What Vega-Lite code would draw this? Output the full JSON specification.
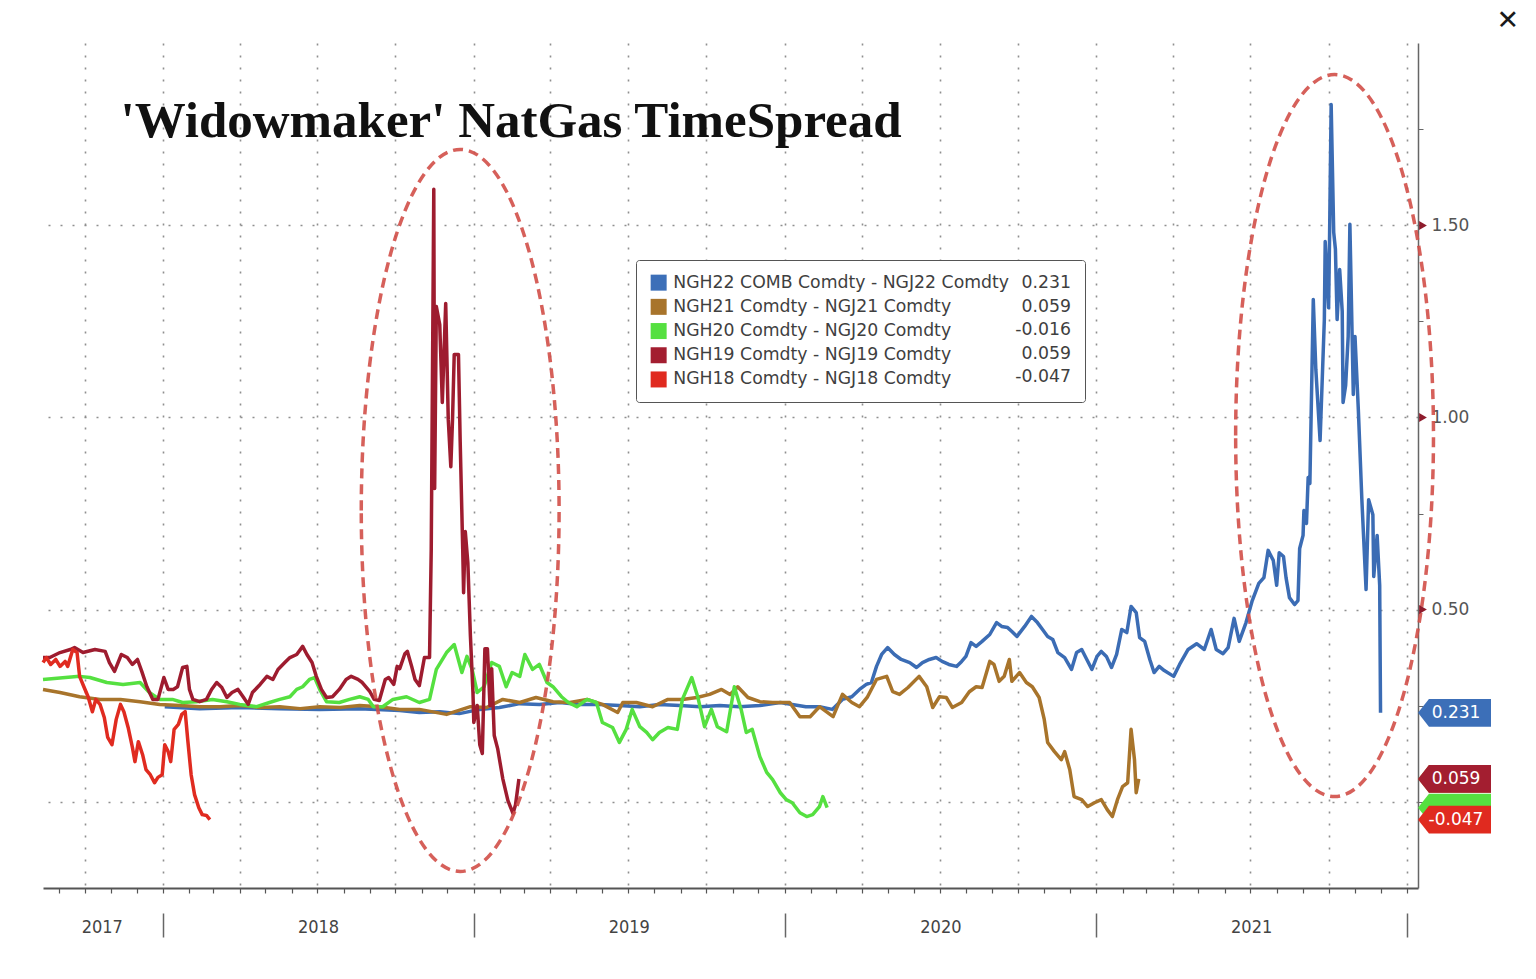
{
  "$schema": "https://vega.github.io/schema/vega-lite/v6.json",
  "autosize": "none",
  "width": 1375,
  "height": 845,
  "padding": {"left": 43, "top": 43, "right": 118, "bottom": 91},
  "background": "#ffffff",
  "config": {
    "view": {"stroke": null},
    "locale": {"number": {"decimal": ".", "thousands": ",", "grouping": [3], "currency": ["$", ""], "minus": "-"}}
  },
  "title": {"text": "✕", "anchor": "end", "frame": "group", "orient": "top", "dx": 101, "offset": 8, "fontSize": 27, "font": "DejaVu Sans", "fontWeight": "normal", "color": "#1a1a1a"},
  "resolve": {"axis": {"x": "independent"}},
  "datasets": {
    "spreads": [
      {"series": "NGH22", "date": "2018-01-03", "value": 0.247},
      {"series": "NGH22", "date": "2018-02-13", "value": 0.242},
      {"series": "NGH22", "date": "2018-04-01", "value": 0.245},
      {"series": "NGH22", "date": "2018-05-18", "value": 0.242},
      {"series": "NGH22", "date": "2018-07-04", "value": 0.240},
      {"series": "NGH22", "date": "2018-08-20", "value": 0.242},
      {"series": "NGH22", "date": "2018-10-06", "value": 0.237},
      {"series": "NGH22", "date": "2018-10-29", "value": 0.232},
      {"series": "NGH22", "date": "2018-11-22", "value": 0.234},
      {"series": "NGH22", "date": "2018-12-15", "value": 0.229},
      {"series": "NGH22", "date": "2019-01-08", "value": 0.240},
      {"series": "NGH22", "date": "2019-01-31", "value": 0.245},
      {"series": "NGH22", "date": "2019-02-24", "value": 0.255},
      {"series": "NGH22", "date": "2019-03-19", "value": 0.253},
      {"series": "NGH22", "date": "2019-04-12", "value": 0.258},
      {"series": "NGH22", "date": "2019-05-05", "value": 0.253},
      {"series": "NGH22", "date": "2019-05-29", "value": 0.253},
      {"series": "NGH22", "date": "2019-06-21", "value": 0.250},
      {"series": "NGH22", "date": "2019-07-15", "value": 0.247},
      {"series": "NGH22", "date": "2019-08-07", "value": 0.253},
      {"series": "NGH22", "date": "2019-08-31", "value": 0.250},
      {"series": "NGH22", "date": "2019-09-24", "value": 0.247},
      {"series": "NGH22", "date": "2019-10-17", "value": 0.250},
      {"series": "NGH22", "date": "2019-11-09", "value": 0.247},
      {"series": "NGH22", "date": "2019-12-03", "value": 0.250},
      {"series": "NGH22", "date": "2019-12-27", "value": 0.258},
      {"series": "NGH22", "date": "2020-01-10", "value": 0.253},
      {"series": "NGH22", "date": "2020-01-26", "value": 0.247},
      {"series": "NGH22", "date": "2020-02-11", "value": 0.247},
      {"series": "NGH22", "date": "2020-02-26", "value": 0.240},
      {"series": "NGH22", "date": "2020-03-09", "value": 0.266},
      {"series": "NGH22", "date": "2020-03-20", "value": 0.273},
      {"series": "NGH22", "date": "2020-03-29", "value": 0.292},
      {"series": "NGH22", "date": "2020-04-06", "value": 0.305},
      {"series": "NGH22", "date": "2020-04-12", "value": 0.310},
      {"series": "NGH22", "date": "2020-04-18", "value": 0.352},
      {"series": "NGH22", "date": "2020-04-24", "value": 0.383},
      {"series": "NGH22", "date": "2020-05-01", "value": 0.401},
      {"series": "NGH22", "date": "2020-05-09", "value": 0.383},
      {"series": "NGH22", "date": "2020-05-17", "value": 0.370},
      {"series": "NGH22", "date": "2020-05-27", "value": 0.362},
      {"series": "NGH22", "date": "2020-06-04", "value": 0.349},
      {"series": "NGH22", "date": "2020-06-11", "value": 0.362},
      {"series": "NGH22", "date": "2020-06-19", "value": 0.370},
      {"series": "NGH22", "date": "2020-06-27", "value": 0.375},
      {"series": "NGH22", "date": "2020-07-04", "value": 0.365},
      {"series": "NGH22", "date": "2020-07-12", "value": 0.357},
      {"series": "NGH22", "date": "2020-07-21", "value": 0.352},
      {"series": "NGH22", "date": "2020-07-27", "value": 0.365},
      {"series": "NGH22", "date": "2020-08-01", "value": 0.378},
      {"series": "NGH22", "date": "2020-08-07", "value": 0.414},
      {"series": "NGH22", "date": "2020-08-13", "value": 0.404},
      {"series": "NGH22", "date": "2020-08-20", "value": 0.417},
      {"series": "NGH22", "date": "2020-08-29", "value": 0.435},
      {"series": "NGH22", "date": "2020-09-06", "value": 0.466},
      {"series": "NGH22", "date": "2020-09-12", "value": 0.456},
      {"series": "NGH22", "date": "2020-09-19", "value": 0.453},
      {"series": "NGH22", "date": "2020-09-24", "value": 0.443},
      {"series": "NGH22", "date": "2020-09-30", "value": 0.430},
      {"series": "NGH22", "date": "2020-10-09", "value": 0.456},
      {"series": "NGH22", "date": "2020-10-17", "value": 0.482},
      {"series": "NGH22", "date": "2020-10-24", "value": 0.466},
      {"series": "NGH22", "date": "2020-10-30", "value": 0.448},
      {"series": "NGH22", "date": "2020-11-05", "value": 0.430},
      {"series": "NGH22", "date": "2020-11-11", "value": 0.422},
      {"series": "NGH22", "date": "2020-11-17", "value": 0.388},
      {"series": "NGH22", "date": "2020-11-25", "value": 0.375},
      {"series": "NGH22", "date": "2020-12-03", "value": 0.344},
      {"series": "NGH22", "date": "2020-12-09", "value": 0.388},
      {"series": "NGH22", "date": "2020-12-15", "value": 0.396},
      {"series": "NGH22", "date": "2020-12-21", "value": 0.370},
      {"series": "NGH22", "date": "2020-12-27", "value": 0.344},
      {"series": "NGH22", "date": "2021-01-02", "value": 0.378},
      {"series": "NGH22", "date": "2021-01-07", "value": 0.391},
      {"series": "NGH22", "date": "2021-01-13", "value": 0.378},
      {"series": "NGH22", "date": "2021-01-19", "value": 0.349},
      {"series": "NGH22", "date": "2021-01-25", "value": 0.383},
      {"series": "NGH22", "date": "2021-01-31", "value": 0.448},
      {"series": "NGH22", "date": "2021-02-06", "value": 0.440},
      {"series": "NGH22", "date": "2021-02-11", "value": 0.508},
      {"series": "NGH22", "date": "2021-02-17", "value": 0.492},
      {"series": "NGH22", "date": "2021-02-21", "value": 0.427},
      {"series": "NGH22", "date": "2021-02-27", "value": 0.417},
      {"series": "NGH22", "date": "2021-03-05", "value": 0.370},
      {"series": "NGH22", "date": "2021-03-10", "value": 0.336},
      {"series": "NGH22", "date": "2021-03-16", "value": 0.352},
      {"series": "NGH22", "date": "2021-03-22", "value": 0.341},
      {"series": "NGH22", "date": "2021-04-02", "value": 0.326},
      {"series": "NGH22", "date": "2021-04-09", "value": 0.357},
      {"series": "NGH22", "date": "2021-04-19", "value": 0.396},
      {"series": "NGH22", "date": "2021-04-29", "value": 0.411},
      {"series": "NGH22", "date": "2021-05-08", "value": 0.396},
      {"series": "NGH22", "date": "2021-05-16", "value": 0.448},
      {"series": "NGH22", "date": "2021-05-22", "value": 0.396},
      {"series": "NGH22", "date": "2021-05-30", "value": 0.385},
      {"series": "NGH22", "date": "2021-06-05", "value": 0.401},
      {"series": "NGH22", "date": "2021-06-12", "value": 0.477},
      {"series": "NGH22", "date": "2021-06-18", "value": 0.417},
      {"series": "NGH22", "date": "2021-06-26", "value": 0.466},
      {"series": "NGH22", "date": "2021-07-03", "value": 0.521},
      {"series": "NGH22", "date": "2021-07-11", "value": 0.568},
      {"series": "NGH22", "date": "2021-07-17", "value": 0.583},
      {"series": "NGH22", "date": "2021-07-22", "value": 0.654},
      {"series": "NGH22", "date": "2021-07-28", "value": 0.628},
      {"series": "NGH22", "date": "2021-08-01", "value": 0.563},
      {"series": "NGH22", "date": "2021-08-04", "value": 0.648},
      {"series": "NGH22", "date": "2021-08-09", "value": 0.638},
      {"series": "NGH22", "date": "2021-08-12", "value": 0.583},
      {"series": "NGH22", "date": "2021-08-16", "value": 0.531},
      {"series": "NGH22", "date": "2021-08-22", "value": 0.513},
      {"series": "NGH22", "date": "2021-08-26", "value": 0.523},
      {"series": "NGH22", "date": "2021-08-28", "value": 0.659},
      {"series": "NGH22", "date": "2021-09-01", "value": 0.693},
      {"series": "NGH22", "date": "2021-09-02", "value": 0.758},
      {"series": "NGH22", "date": "2021-09-05", "value": 0.724},
      {"series": "NGH22", "date": "2021-09-07", "value": 0.844},
      {"series": "NGH22", "date": "2021-09-09", "value": 0.828},
      {"series": "NGH22", "date": "2021-09-13", "value": 1.307},
      {"series": "NGH22", "date": "2021-09-16", "value": 1.125},
      {"series": "NGH22", "date": "2021-09-21", "value": 0.940},
      {"series": "NGH22", "date": "2021-09-26", "value": 1.255},
      {"series": "NGH22", "date": "2021-09-27", "value": 1.458},
      {"series": "NGH22", "date": "2021-10-01", "value": 1.286},
      {"series": "NGH22", "date": "2021-10-02", "value": 1.448},
      {"series": "NGH22", "date": "2021-10-04", "value": 1.815},
      {"series": "NGH22", "date": "2021-10-07", "value": 1.482},
      {"series": "NGH22", "date": "2021-10-09", "value": 1.438},
      {"series": "NGH22", "date": "2021-10-11", "value": 1.255},
      {"series": "NGH22", "date": "2021-10-14", "value": 1.385},
      {"series": "NGH22", "date": "2021-10-17", "value": 1.276},
      {"series": "NGH22", "date": "2021-10-18", "value": 1.039},
      {"series": "NGH22", "date": "2021-10-21", "value": 1.083},
      {"series": "NGH22", "date": "2021-10-24", "value": 1.211},
      {"series": "NGH22", "date": "2021-10-26", "value": 1.503},
      {"series": "NGH22", "date": "2021-10-30", "value": 1.060},
      {"series": "NGH22", "date": "2021-11-01", "value": 1.211},
      {"series": "NGH22", "date": "2021-11-05", "value": 1.016},
      {"series": "NGH22", "date": "2021-11-09", "value": 0.789},
      {"series": "NGH22", "date": "2021-11-14", "value": 0.552},
      {"series": "NGH22", "date": "2021-11-17", "value": 0.786},
      {"series": "NGH22", "date": "2021-11-22", "value": 0.747},
      {"series": "NGH22", "date": "2021-11-23", "value": 0.586},
      {"series": "NGH22", "date": "2021-11-27", "value": 0.693},
      {"series": "NGH22", "date": "2021-11-30", "value": 0.563},
      {"series": "NGH22", "date": "2021-12-01", "value": 0.231},

      {"series": "NGH21", "date": "2017-08-13", "value": 0.292},
      {"series": "NGH21", "date": "2017-09-02", "value": 0.284},
      {"series": "NGH21", "date": "2017-09-25", "value": 0.273},
      {"series": "NGH21", "date": "2017-10-19", "value": 0.266},
      {"series": "NGH21", "date": "2017-11-12", "value": 0.266},
      {"series": "NGH21", "date": "2017-12-05", "value": 0.260},
      {"series": "NGH21", "date": "2017-12-28", "value": 0.253},
      {"series": "NGH21", "date": "2018-01-21", "value": 0.250},
      {"series": "NGH21", "date": "2018-02-13", "value": 0.247},
      {"series": "NGH21", "date": "2018-03-09", "value": 0.247},
      {"series": "NGH21", "date": "2018-04-01", "value": 0.250},
      {"series": "NGH21", "date": "2018-04-25", "value": 0.245},
      {"series": "NGH21", "date": "2018-05-18", "value": 0.247},
      {"series": "NGH21", "date": "2018-06-11", "value": 0.242},
      {"series": "NGH21", "date": "2018-07-04", "value": 0.247},
      {"series": "NGH21", "date": "2018-07-28", "value": 0.245},
      {"series": "NGH21", "date": "2018-08-20", "value": 0.250},
      {"series": "NGH21", "date": "2018-09-12", "value": 0.247},
      {"series": "NGH21", "date": "2018-10-06", "value": 0.240},
      {"series": "NGH21", "date": "2018-10-29", "value": 0.240},
      {"series": "NGH21", "date": "2018-11-30", "value": 0.227},
      {"series": "NGH21", "date": "2018-12-28", "value": 0.247},
      {"series": "NGH21", "date": "2019-01-16", "value": 0.245},
      {"series": "NGH21", "date": "2019-02-04", "value": 0.266},
      {"series": "NGH21", "date": "2019-02-24", "value": 0.258},
      {"series": "NGH21", "date": "2019-03-15", "value": 0.271},
      {"series": "NGH21", "date": "2019-04-04", "value": 0.260},
      {"series": "NGH21", "date": "2019-04-24", "value": 0.258},
      {"series": "NGH21", "date": "2019-05-14", "value": 0.266},
      {"series": "NGH21", "date": "2019-06-01", "value": 0.253},
      {"series": "NGH21", "date": "2019-06-19", "value": 0.232},
      {"series": "NGH21", "date": "2019-06-25", "value": 0.258},
      {"series": "NGH21", "date": "2019-07-11", "value": 0.258},
      {"series": "NGH21", "date": "2019-07-30", "value": 0.247},
      {"series": "NGH21", "date": "2019-08-17", "value": 0.266},
      {"series": "NGH21", "date": "2019-09-03", "value": 0.266},
      {"series": "NGH21", "date": "2019-09-20", "value": 0.271},
      {"series": "NGH21", "date": "2019-10-05", "value": 0.279},
      {"series": "NGH21", "date": "2019-10-19", "value": 0.292},
      {"series": "NGH21", "date": "2019-10-29", "value": 0.279},
      {"series": "NGH21", "date": "2019-11-07", "value": 0.299},
      {"series": "NGH21", "date": "2019-11-19", "value": 0.271},
      {"series": "NGH21", "date": "2019-12-03", "value": 0.260},
      {"series": "NGH21", "date": "2019-12-18", "value": 0.258},
      {"series": "NGH21", "date": "2020-01-07", "value": 0.258},
      {"series": "NGH21", "date": "2020-01-19", "value": 0.221},
      {"series": "NGH21", "date": "2020-01-31", "value": 0.221},
      {"series": "NGH21", "date": "2020-02-11", "value": 0.247},
      {"series": "NGH21", "date": "2020-02-27", "value": 0.221},
      {"series": "NGH21", "date": "2020-03-09", "value": 0.279},
      {"series": "NGH21", "date": "2020-03-20", "value": 0.258},
      {"series": "NGH21", "date": "2020-03-29", "value": 0.247},
      {"series": "NGH21", "date": "2020-04-07", "value": 0.271},
      {"series": "NGH21", "date": "2020-04-18", "value": 0.318},
      {"series": "NGH21", "date": "2020-04-30", "value": 0.326},
      {"series": "NGH21", "date": "2020-05-07", "value": 0.286},
      {"series": "NGH21", "date": "2020-05-15", "value": 0.279},
      {"series": "NGH21", "date": "2020-05-25", "value": 0.297},
      {"series": "NGH21", "date": "2020-06-07", "value": 0.326},
      {"series": "NGH21", "date": "2020-06-16", "value": 0.299},
      {"series": "NGH21", "date": "2020-06-23", "value": 0.245},
      {"series": "NGH21", "date": "2020-07-01", "value": 0.273},
      {"series": "NGH21", "date": "2020-07-09", "value": 0.271},
      {"series": "NGH21", "date": "2020-07-16", "value": 0.245},
      {"series": "NGH21", "date": "2020-07-27", "value": 0.258},
      {"series": "NGH21", "date": "2020-08-05", "value": 0.286},
      {"series": "NGH21", "date": "2020-08-13", "value": 0.299},
      {"series": "NGH21", "date": "2020-08-20", "value": 0.297},
      {"series": "NGH21", "date": "2020-08-29", "value": 0.365},
      {"series": "NGH21", "date": "2020-09-03", "value": 0.357},
      {"series": "NGH21", "date": "2020-09-09", "value": 0.313},
      {"series": "NGH21", "date": "2020-09-15", "value": 0.326},
      {"series": "NGH21", "date": "2020-09-21", "value": 0.370},
      {"series": "NGH21", "date": "2020-09-24", "value": 0.313},
      {"series": "NGH21", "date": "2020-10-03", "value": 0.336},
      {"series": "NGH21", "date": "2020-10-11", "value": 0.310},
      {"series": "NGH21", "date": "2020-10-18", "value": 0.299},
      {"series": "NGH21", "date": "2020-10-26", "value": 0.271},
      {"series": "NGH21", "date": "2020-11-01", "value": 0.214},
      {"series": "NGH21", "date": "2020-11-05", "value": 0.154},
      {"series": "NGH21", "date": "2020-11-13", "value": 0.130},
      {"series": "NGH21", "date": "2020-11-21", "value": 0.109},
      {"series": "NGH21", "date": "2020-11-25", "value": 0.130},
      {"series": "NGH21", "date": "2020-12-01", "value": 0.083},
      {"series": "NGH21", "date": "2020-12-06", "value": 0.013},
      {"series": "NGH21", "date": "2020-12-15", "value": 0.005},
      {"series": "NGH21", "date": "2020-12-22", "value": -0.013},
      {"series": "NGH21", "date": "2020-12-30", "value": -0.003},
      {"series": "NGH21", "date": "2021-01-07", "value": 0.005},
      {"series": "NGH21", "date": "2021-01-14", "value": -0.021},
      {"series": "NGH21", "date": "2021-01-20", "value": -0.039},
      {"series": "NGH21", "date": "2021-01-26", "value": 0.005},
      {"series": "NGH21", "date": "2021-02-01", "value": 0.039},
      {"series": "NGH21", "date": "2021-02-07", "value": 0.049},
      {"series": "NGH21", "date": "2021-02-11", "value": 0.188},
      {"series": "NGH21", "date": "2021-02-15", "value": 0.109},
      {"series": "NGH21", "date": "2021-02-17", "value": 0.023},
      {"series": "NGH21", "date": "2021-02-20", "value": 0.059},

      {"series": "NGH20", "date": "2017-08-13", "value": 0.318},
      {"series": "NGH20", "date": "2017-09-25", "value": 0.326},
      {"series": "NGH20", "date": "2017-10-07", "value": 0.323},
      {"series": "NGH20", "date": "2017-10-27", "value": 0.310},
      {"series": "NGH20", "date": "2017-11-15", "value": 0.305},
      {"series": "NGH20", "date": "2017-12-05", "value": 0.310},
      {"series": "NGH20", "date": "2017-12-16", "value": 0.284},
      {"series": "NGH20", "date": "2017-12-28", "value": 0.266},
      {"series": "NGH20", "date": "2018-01-12", "value": 0.266},
      {"series": "NGH20", "date": "2018-01-24", "value": 0.258},
      {"series": "NGH20", "date": "2018-02-09", "value": 0.260},
      {"series": "NGH20", "date": "2018-02-28", "value": 0.266},
      {"series": "NGH20", "date": "2018-03-17", "value": 0.260},
      {"series": "NGH20", "date": "2018-04-01", "value": 0.253},
      {"series": "NGH20", "date": "2018-04-21", "value": 0.247},
      {"series": "NGH20", "date": "2018-05-06", "value": 0.258},
      {"series": "NGH20", "date": "2018-05-18", "value": 0.266},
      {"series": "NGH20", "date": "2018-05-30", "value": 0.273},
      {"series": "NGH20", "date": "2018-06-07", "value": 0.292},
      {"series": "NGH20", "date": "2018-06-14", "value": 0.299},
      {"series": "NGH20", "date": "2018-06-22", "value": 0.318},
      {"series": "NGH20", "date": "2018-06-28", "value": 0.323},
      {"series": "NGH20", "date": "2018-07-04", "value": 0.292},
      {"series": "NGH20", "date": "2018-07-12", "value": 0.260},
      {"series": "NGH20", "date": "2018-07-27", "value": 0.258},
      {"series": "NGH20", "date": "2018-08-08", "value": 0.266},
      {"series": "NGH20", "date": "2018-08-20", "value": 0.273},
      {"series": "NGH20", "date": "2018-08-30", "value": 0.266},
      {"series": "NGH20", "date": "2018-09-05", "value": 0.247},
      {"series": "NGH20", "date": "2018-09-16", "value": 0.247},
      {"series": "NGH20", "date": "2018-09-28", "value": 0.266},
      {"series": "NGH20", "date": "2018-10-14", "value": 0.273},
      {"series": "NGH20", "date": "2018-10-29", "value": 0.258},
      {"series": "NGH20", "date": "2018-11-10", "value": 0.266},
      {"series": "NGH20", "date": "2018-11-18", "value": 0.344},
      {"series": "NGH20", "date": "2018-11-30", "value": 0.388},
      {"series": "NGH20", "date": "2018-12-09", "value": 0.409},
      {"series": "NGH20", "date": "2018-12-18", "value": 0.336},
      {"series": "NGH20", "date": "2018-12-24", "value": 0.378},
      {"series": "NGH20", "date": "2018-12-30", "value": 0.344},
      {"series": "NGH20", "date": "2019-01-05", "value": 0.284},
      {"series": "NGH20", "date": "2019-01-13", "value": 0.299},
      {"series": "NGH20", "date": "2019-01-22", "value": 0.362},
      {"series": "NGH20", "date": "2019-01-31", "value": 0.352},
      {"series": "NGH20", "date": "2019-02-08", "value": 0.299},
      {"series": "NGH20", "date": "2019-02-15", "value": 0.336},
      {"series": "NGH20", "date": "2019-02-24", "value": 0.326},
      {"series": "NGH20", "date": "2019-03-02", "value": 0.383},
      {"series": "NGH20", "date": "2019-03-11", "value": 0.344},
      {"series": "NGH20", "date": "2019-03-19", "value": 0.357},
      {"series": "NGH20", "date": "2019-03-28", "value": 0.310},
      {"series": "NGH20", "date": "2019-04-04", "value": 0.299},
      {"series": "NGH20", "date": "2019-04-14", "value": 0.273},
      {"series": "NGH20", "date": "2019-04-22", "value": 0.258},
      {"series": "NGH20", "date": "2019-05-02", "value": 0.247},
      {"series": "NGH20", "date": "2019-05-14", "value": 0.266},
      {"series": "NGH20", "date": "2019-05-25", "value": 0.258},
      {"series": "NGH20", "date": "2019-06-01", "value": 0.206},
      {"series": "NGH20", "date": "2019-06-13", "value": 0.193},
      {"series": "NGH20", "date": "2019-06-21", "value": 0.154},
      {"series": "NGH20", "date": "2019-06-29", "value": 0.188},
      {"series": "NGH20", "date": "2019-07-06", "value": 0.240},
      {"series": "NGH20", "date": "2019-07-15", "value": 0.195},
      {"series": "NGH20", "date": "2019-07-23", "value": 0.180},
      {"series": "NGH20", "date": "2019-07-30", "value": 0.161},
      {"series": "NGH20", "date": "2019-08-07", "value": 0.180},
      {"series": "NGH20", "date": "2019-08-17", "value": 0.193},
      {"series": "NGH20", "date": "2019-08-28", "value": 0.188},
      {"series": "NGH20", "date": "2019-09-03", "value": 0.266},
      {"series": "NGH20", "date": "2019-09-14", "value": 0.323},
      {"series": "NGH20", "date": "2019-09-21", "value": 0.273},
      {"series": "NGH20", "date": "2019-09-29", "value": 0.195},
      {"series": "NGH20", "date": "2019-10-07", "value": 0.240},
      {"series": "NGH20", "date": "2019-10-14", "value": 0.195},
      {"series": "NGH20", "date": "2019-10-25", "value": 0.182},
      {"series": "NGH20", "date": "2019-11-03", "value": 0.299},
      {"series": "NGH20", "date": "2019-11-11", "value": 0.240},
      {"series": "NGH20", "date": "2019-11-17", "value": 0.180},
      {"series": "NGH20", "date": "2019-11-24", "value": 0.188},
      {"series": "NGH20", "date": "2019-12-03", "value": 0.117},
      {"series": "NGH20", "date": "2019-12-11", "value": 0.076},
      {"series": "NGH20", "date": "2019-12-18", "value": 0.057},
      {"series": "NGH20", "date": "2019-12-27", "value": 0.023},
      {"series": "NGH20", "date": "2020-01-03", "value": 0.005},
      {"series": "NGH20", "date": "2020-01-10", "value": -0.003},
      {"series": "NGH20", "date": "2020-01-19", "value": -0.029},
      {"series": "NGH20", "date": "2020-01-27", "value": -0.039},
      {"series": "NGH20", "date": "2020-02-03", "value": -0.034},
      {"series": "NGH20", "date": "2020-02-11", "value": -0.013},
      {"series": "NGH20", "date": "2020-02-15", "value": 0.013},
      {"series": "NGH20", "date": "2020-02-20", "value": -0.016},

      {"series": "NGH19", "date": "2017-08-13", "value": 0.375},
      {"series": "NGH19", "date": "2017-08-21", "value": 0.375},
      {"series": "NGH19", "date": "2017-09-02", "value": 0.388},
      {"series": "NGH19", "date": "2017-09-14", "value": 0.396},
      {"series": "NGH19", "date": "2017-09-19", "value": 0.401},
      {"series": "NGH19", "date": "2017-09-29", "value": 0.388},
      {"series": "NGH19", "date": "2017-10-13", "value": 0.396},
      {"series": "NGH19", "date": "2017-10-25", "value": 0.391},
      {"series": "NGH19", "date": "2017-10-30", "value": 0.362},
      {"series": "NGH19", "date": "2017-11-05", "value": 0.339},
      {"series": "NGH19", "date": "2017-11-13", "value": 0.383},
      {"series": "NGH19", "date": "2017-11-20", "value": 0.375},
      {"series": "NGH19", "date": "2017-11-26", "value": 0.357},
      {"series": "NGH19", "date": "2017-12-02", "value": 0.370},
      {"series": "NGH19", "date": "2017-12-07", "value": 0.339},
      {"series": "NGH19", "date": "2017-12-13", "value": 0.299},
      {"series": "NGH19", "date": "2017-12-20", "value": 0.266},
      {"series": "NGH19", "date": "2017-12-26", "value": 0.266},
      {"series": "NGH19", "date": "2018-01-02", "value": 0.323},
      {"series": "NGH19", "date": "2018-01-07", "value": 0.292},
      {"series": "NGH19", "date": "2018-01-13", "value": 0.292},
      {"series": "NGH19", "date": "2018-01-18", "value": 0.299},
      {"series": "NGH19", "date": "2018-01-24", "value": 0.349},
      {"series": "NGH19", "date": "2018-01-29", "value": 0.352},
      {"series": "NGH19", "date": "2018-02-01", "value": 0.292},
      {"series": "NGH19", "date": "2018-02-05", "value": 0.266},
      {"series": "NGH19", "date": "2018-02-13", "value": 0.260},
      {"series": "NGH19", "date": "2018-02-21", "value": 0.266},
      {"series": "NGH19", "date": "2018-02-27", "value": 0.292},
      {"series": "NGH19", "date": "2018-03-05", "value": 0.310},
      {"series": "NGH19", "date": "2018-03-11", "value": 0.297},
      {"series": "NGH19", "date": "2018-03-17", "value": 0.271},
      {"series": "NGH19", "date": "2018-03-23", "value": 0.284},
      {"series": "NGH19", "date": "2018-03-30", "value": 0.292},
      {"series": "NGH19", "date": "2018-04-05", "value": 0.273},
      {"series": "NGH19", "date": "2018-04-11", "value": 0.253},
      {"series": "NGH19", "date": "2018-04-16", "value": 0.284},
      {"series": "NGH19", "date": "2018-04-25", "value": 0.305},
      {"series": "NGH19", "date": "2018-05-03", "value": 0.326},
      {"series": "NGH19", "date": "2018-05-10", "value": 0.318},
      {"series": "NGH19", "date": "2018-05-16", "value": 0.344},
      {"series": "NGH19", "date": "2018-05-24", "value": 0.362},
      {"series": "NGH19", "date": "2018-05-30", "value": 0.375},
      {"series": "NGH19", "date": "2018-06-07", "value": 0.383},
      {"series": "NGH19", "date": "2018-06-14", "value": 0.404},
      {"series": "NGH19", "date": "2018-06-19", "value": 0.383},
      {"series": "NGH19", "date": "2018-06-25", "value": 0.362},
      {"series": "NGH19", "date": "2018-06-30", "value": 0.326},
      {"series": "NGH19", "date": "2018-07-06", "value": 0.292},
      {"series": "NGH19", "date": "2018-07-12", "value": 0.271},
      {"series": "NGH19", "date": "2018-07-19", "value": 0.273},
      {"series": "NGH19", "date": "2018-07-27", "value": 0.292},
      {"series": "NGH19", "date": "2018-08-04", "value": 0.318},
      {"series": "NGH19", "date": "2018-08-10", "value": 0.326},
      {"series": "NGH19", "date": "2018-08-18", "value": 0.318},
      {"series": "NGH19", "date": "2018-08-23", "value": 0.310},
      {"series": "NGH19", "date": "2018-09-01", "value": 0.286},
      {"series": "NGH19", "date": "2018-09-06", "value": 0.266},
      {"series": "NGH19", "date": "2018-09-12", "value": 0.263},
      {"series": "NGH19", "date": "2018-09-19", "value": 0.318},
      {"series": "NGH19", "date": "2018-09-23", "value": 0.323},
      {"series": "NGH19", "date": "2018-09-29", "value": 0.305},
      {"series": "NGH19", "date": "2018-10-03", "value": 0.352},
      {"series": "NGH19", "date": "2018-10-06", "value": 0.346},
      {"series": "NGH19", "date": "2018-10-12", "value": 0.385},
      {"series": "NGH19", "date": "2018-10-15", "value": 0.391},
      {"series": "NGH19", "date": "2018-10-20", "value": 0.352},
      {"series": "NGH19", "date": "2018-10-24", "value": 0.318},
      {"series": "NGH19", "date": "2018-10-29", "value": 0.302},
      {"series": "NGH19", "date": "2018-11-04", "value": 0.375},
      {"series": "NGH19", "date": "2018-11-10", "value": 0.375},
      {"series": "NGH19", "date": "2018-11-12", "value": 0.656},
      {"series": "NGH19", "date": "2018-11-15", "value": 1.594},
      {"series": "NGH19", "date": "2018-11-16", "value": 0.815},
      {"series": "NGH19", "date": "2018-11-18", "value": 1.289},
      {"series": "NGH19", "date": "2018-11-22", "value": 1.242},
      {"series": "NGH19", "date": "2018-11-25", "value": 1.039},
      {"series": "NGH19", "date": "2018-11-29", "value": 1.297},
      {"series": "NGH19", "date": "2018-12-02", "value": 0.995},
      {"series": "NGH19", "date": "2018-12-05", "value": 0.872},
      {"series": "NGH19", "date": "2018-12-07", "value": 0.995},
      {"series": "NGH19", "date": "2018-12-09", "value": 1.164},
      {"series": "NGH19", "date": "2018-12-14", "value": 1.164},
      {"series": "NGH19", "date": "2018-12-15", "value": 1.052},
      {"series": "NGH19", "date": "2018-12-16", "value": 0.938},
      {"series": "NGH19", "date": "2018-12-19", "value": 0.656},
      {"series": "NGH19", "date": "2018-12-20", "value": 0.544},
      {"series": "NGH19", "date": "2018-12-22", "value": 0.703},
      {"series": "NGH19", "date": "2018-12-25", "value": 0.622},
      {"series": "NGH19", "date": "2018-12-28", "value": 0.432},
      {"series": "NGH19", "date": "2018-12-31", "value": 0.284},
      {"series": "NGH19", "date": "2019-01-01", "value": 0.206},
      {"series": "NGH19", "date": "2019-01-05", "value": 0.250},
      {"series": "NGH19", "date": "2019-01-08", "value": 0.148},
      {"series": "NGH19", "date": "2019-01-11", "value": 0.125},
      {"series": "NGH19", "date": "2019-01-14", "value": 0.398},
      {"series": "NGH19", "date": "2019-01-17", "value": 0.398},
      {"series": "NGH19", "date": "2019-01-20", "value": 0.250},
      {"series": "NGH19", "date": "2019-01-22", "value": 0.346},
      {"series": "NGH19", "date": "2019-01-25", "value": 0.172},
      {"series": "NGH19", "date": "2019-01-29", "value": 0.138},
      {"series": "NGH19", "date": "2019-02-04", "value": 0.060},
      {"series": "NGH19", "date": "2019-02-10", "value": 0.003},
      {"series": "NGH19", "date": "2019-02-16", "value": -0.031},
      {"series": "NGH19", "date": "2019-02-19", "value": -0.008},
      {"series": "NGH19", "date": "2019-02-23", "value": 0.059},

      {"series": "NGH18", "date": "2017-08-13", "value": 0.362},
      {"series": "NGH18", "date": "2017-08-17", "value": 0.375},
      {"series": "NGH18", "date": "2017-08-22", "value": 0.357},
      {"series": "NGH18", "date": "2017-08-28", "value": 0.370},
      {"series": "NGH18", "date": "2017-09-02", "value": 0.352},
      {"series": "NGH18", "date": "2017-09-08", "value": 0.365},
      {"series": "NGH18", "date": "2017-09-11", "value": 0.352},
      {"series": "NGH18", "date": "2017-09-17", "value": 0.396},
      {"series": "NGH18", "date": "2017-09-22", "value": 0.388},
      {"series": "NGH18", "date": "2017-09-25", "value": 0.326},
      {"series": "NGH18", "date": "2017-09-30", "value": 0.299},
      {"series": "NGH18", "date": "2017-10-05", "value": 0.273},
      {"series": "NGH18", "date": "2017-10-10", "value": 0.234},
      {"series": "NGH18", "date": "2017-10-14", "value": 0.266},
      {"series": "NGH18", "date": "2017-10-19", "value": 0.253},
      {"series": "NGH18", "date": "2017-10-24", "value": 0.219},
      {"series": "NGH18", "date": "2017-10-28", "value": 0.167},
      {"series": "NGH18", "date": "2017-11-02", "value": 0.148},
      {"series": "NGH18", "date": "2017-11-07", "value": 0.214},
      {"series": "NGH18", "date": "2017-11-12", "value": 0.253},
      {"series": "NGH18", "date": "2017-11-16", "value": 0.234},
      {"series": "NGH18", "date": "2017-11-21", "value": 0.193},
      {"series": "NGH18", "date": "2017-11-26", "value": 0.141},
      {"series": "NGH18", "date": "2017-11-29", "value": 0.104},
      {"series": "NGH18", "date": "2017-12-03", "value": 0.156},
      {"series": "NGH18", "date": "2017-12-08", "value": 0.122},
      {"series": "NGH18", "date": "2017-12-12", "value": 0.083},
      {"series": "NGH18", "date": "2017-12-17", "value": 0.070},
      {"series": "NGH18", "date": "2017-12-22", "value": 0.049},
      {"series": "NGH18", "date": "2017-12-26", "value": 0.063},
      {"series": "NGH18", "date": "2017-12-31", "value": 0.070},
      {"series": "NGH18", "date": "2018-01-03", "value": 0.148},
      {"series": "NGH18", "date": "2018-01-07", "value": 0.130},
      {"series": "NGH18", "date": "2018-01-10", "value": 0.104},
      {"series": "NGH18", "date": "2018-01-14", "value": 0.188},
      {"series": "NGH18", "date": "2018-01-19", "value": 0.201},
      {"series": "NGH18", "date": "2018-01-23", "value": 0.227},
      {"series": "NGH18", "date": "2018-01-27", "value": 0.234},
      {"series": "NGH18", "date": "2018-01-30", "value": 0.161},
      {"series": "NGH18", "date": "2018-02-03", "value": 0.070},
      {"series": "NGH18", "date": "2018-02-07", "value": 0.018},
      {"series": "NGH18", "date": "2018-02-12", "value": -0.016},
      {"series": "NGH18", "date": "2018-02-16", "value": -0.034},
      {"series": "NGH18", "date": "2018-02-21", "value": -0.036},
      {"series": "NGH18", "date": "2018-02-25", "value": -0.047}
    ],
    "highlights": [
      {"date": "2018-12-16", "value": 0.758},
      {"date": "2021-10-08", "value": 0.953}
    ],
    "majorTicks": [
      {"value": 0.5},
      {"value": 1.0},
      {"value": 1.5}
    ],
    "lastValues": [
      {"contract": "NGH21", "value": 0.059},
      {"contract": "NGH20", "value": -0.016},
      {"contract": "NGH19", "value": 0.059},
      {"contract": "NGH18", "value": -0.047},
      {"contract": "NGH22", "value": 0.231}
    ]
  },
  "layer": [
    {
      "data": {"name": "spreads"},
      "mark": {"type": "line", "strokeWidth": 3.5, "strokeJoin": "round"},
      "encoding": {
        "x": {
          "field": "date", "type": "temporal",
          "scale": {"domain": [{"year": 2017, "month": 8, "date": 13}, {"year": 2022, "month": 1, "date": 14}], "nice": false},
          "axis": {
            "orient": "bottom", "title": null, "labels": false,
            "tickCount": {"interval": "month", "step": 1},
            "tickSize": 5, "tickColor": "#555555", "tickWidth": 1.2,
            "domainColor": "#555555", "domainWidth": 2,
            "grid": true, "gridColor": "#8f8f8f", "gridWidth": 1.6, "gridDash": [2, 10],
            "gridOpacity": {"condition": {"test": "month(datum.value) % 3 === 0", "value": 1}, "value": 0}
          }
        },
        "y": {
          "field": "value", "type": "quantitative",
          "scale": {"domain": [-0.225, 1.975], "nice": false, "zero": false},
          "axis": {
            "orient": "right", "title": null,
            "values": [0, 0.25, 0.5, 0.75, 1, 1.25, 1.5, 1.75],
            "labelExpr": "(datum.value === 0.5 || datum.value === 1 || datum.value === 1.5) ? format(datum.value, '.2f') : ''",
            "labelFont": "DejaVu Sans", "labelFontSize": 17, "labelColor": "#555555", "labelPadding": 8,
            "tickSize": 5, "tickColor": "#666666", "domainColor": "#666666", "domainWidth": 1.5,
            "grid": true, "gridColor": "#8f8f8f", "gridWidth": 1.6, "gridDash": [2, 10],
            "gridOpacity": {"condition": {"test": "datum.value % 0.5 === 0", "value": 1}, "value": 0}
          }
        },
        "stroke": {
          "field": "series", "type": "nominal",
          "scale": {"domain": ["NGH18", "NGH19", "NGH20", "NGH21", "NGH22"], "range": ["#e02b20", "#9e1c2f", "#55e040", "#a8742b", "#3b6cb4"]},
          "legend": null
        }
      }
    },
    {
      "data": {"name": "highlights"},
      "mark": {"type": "point", "shape": "M-0.274,0A0.274,1,0,1,1,0.274,0A0.274,1,0,1,1,-0.274,0Z", "size": 521284, "filled": false, "color": "#d24f49", "strokeWidth": 3.5, "strokeDash": [10, 6], "opacity": 0.9},
      "encoding": {
        "x": {
          "field": "date", "type": "temporal",
          "scale": {"domain": [{"year": 2017, "month": 8, "date": 13}, {"year": 2022, "month": 1, "date": 14}], "nice": false},
          "axis": {
            "orient": "bottom", "title": null, "offset": 25,
            "domain": false, "grid": false,
            "values": [
              {"year": 2017, "month": 10, "date": 21},
              {"year": 2018, "month": 1, "date": 1},
              {"year": 2018, "month": 7, "date": 2},
              {"year": 2019, "month": 1, "date": 1},
              {"year": 2019, "month": 7, "date": 2},
              {"year": 2020, "month": 1, "date": 1},
              {"year": 2020, "month": 7, "date": 2},
              {"year": 2021, "month": 1, "date": 1},
              {"year": 2021, "month": 7, "date": 2},
              {"year": 2022, "month": 1, "date": 1}
            ],
            "tickSize": 24, "tickColor": "#666666", "tickWidth": 1.5,
            "tickOpacity": {"condition": {"test": "date(datum.value) === 1", "value": 1}, "value": 0},
            "labelExpr": "date(datum.value) === 1 ? '' : timeFormat(datum.value, '%Y')",
            "labelPadding": -10, "labelBaseline": "middle", "labelOverlap": false, "labelFlush": false,
            "labelFont": "DejaVu Sans Condensed, Liberation Sans Narrow, DejaVu Sans", "labelFontSize": 18, "labelColor": "#444444"
          }
        },
        "y": {"field": "value", "type": "quantitative"}
      }
    },
    {
      "data": {"name": "majorTicks"},
      "mark": {"type": "point", "shape": "triangle-right", "size": 80, "filled": true, "color": "#8e1b2c", "opacity": 1, "xOffset": 5},
      "encoding": {
        "x": {"datum": {"year": 2022, "month": 1, "date": 14}, "type": "temporal", "axis": null},
        "y": {"field": "value", "type": "quantitative"}
      }
    },
    {
      "data": {"name": "lastValues"},
      "mark": {"type": "point", "shape": "M0,0L0.3,-0.38L2,-0.38L2,0.38L0.3,0.38Z", "size": 5329, "filled": true, "opacity": 1, "strokeWidth": 0},
      "encoding": {
        "x": {"datum": {"year": 2022, "month": 1, "date": 14}, "type": "temporal", "axis": null},
        "y": {"field": "value", "type": "quantitative"},
        "fill": {
          "field": "contract", "type": "nominal",
          "scale": {"domain": ["NGH22", "NGH21", "NGH20", "NGH19", "NGH18"], "range": ["#3c6fb8", "#a8742b", "#55e040", "#a31e30", "#e02a1f"]},
          "legend": {
            "orient": "none", "legendX": 593, "legendY": 217,
            "title": ["0.231", "0.059", "-0.016", "0.059", "-0.047"],
            "titleOrient": "right", "titleAnchor": "start", "titleAlign": "right",
            "titleFont": "DejaVu Sans", "titleFontSize": 17.3, "titleFontWeight": "normal", "titleColor": "#3f3f3f",
            "titleLineHeight": 23.5, "titlePadding": 62,
            "symbolType": "square", "symbolSize": 256, "symbolStrokeWidth": 0, "symbolOpacity": 1,
            "labelFont": "DejaVu Sans", "labelFontSize": 17.3, "labelColor": "#3f3f3f", "labelOffset": 6, "labelLimit": 600,
            "labelExpr": "datum.label === 'NGH22' ? 'NGH22 COMB Comdty - NGJ22 Comdty' : datum.label + ' Comdty - NGJ' + substring(datum.label, 3) + ' Comdty'",
            "rowPadding": 6.2, "padding": 14,
            "strokeColor": "#555555", "fillColor": "#ffffff", "cornerRadius": 3
          }
        }
      }
    },
    {
      "data": {"name": "lastValues"},
      "transform": [{"filter": "datum.contract !== 'NGH20' && datum.contract !== 'NGH21'"}],
      "mark": {"type": "text", "color": "#ffffff", "font": "DejaVu Sans", "fontSize": 17, "align": "center", "baseline": "middle", "dx": 38},
      "encoding": {
        "x": {"datum": {"year": 2022, "month": 1, "date": 14}, "type": "temporal", "axis": null},
        "y": {"field": "value", "type": "quantitative"},
        "text": {"field": "value", "type": "quantitative", "format": ".3f"}
      }
    },
    {
      "data": {"values": [{}]},
      "mark": {"type": "text", "text": "'Widowmaker' NatGas TimeSpread", "font": "Liberation Serif", "fontSize": 51, "fontWeight": "bold", "color": "#111111", "align": "left", "baseline": "alphabetic"},
      "encoding": {
        "x": {"datum": {"year": 2017, "month": 11, "date": 12}, "type": "temporal", "axis": null},
        "y": {"datum": 1.729, "type": "quantitative"}
      }
    }
  ]
}
